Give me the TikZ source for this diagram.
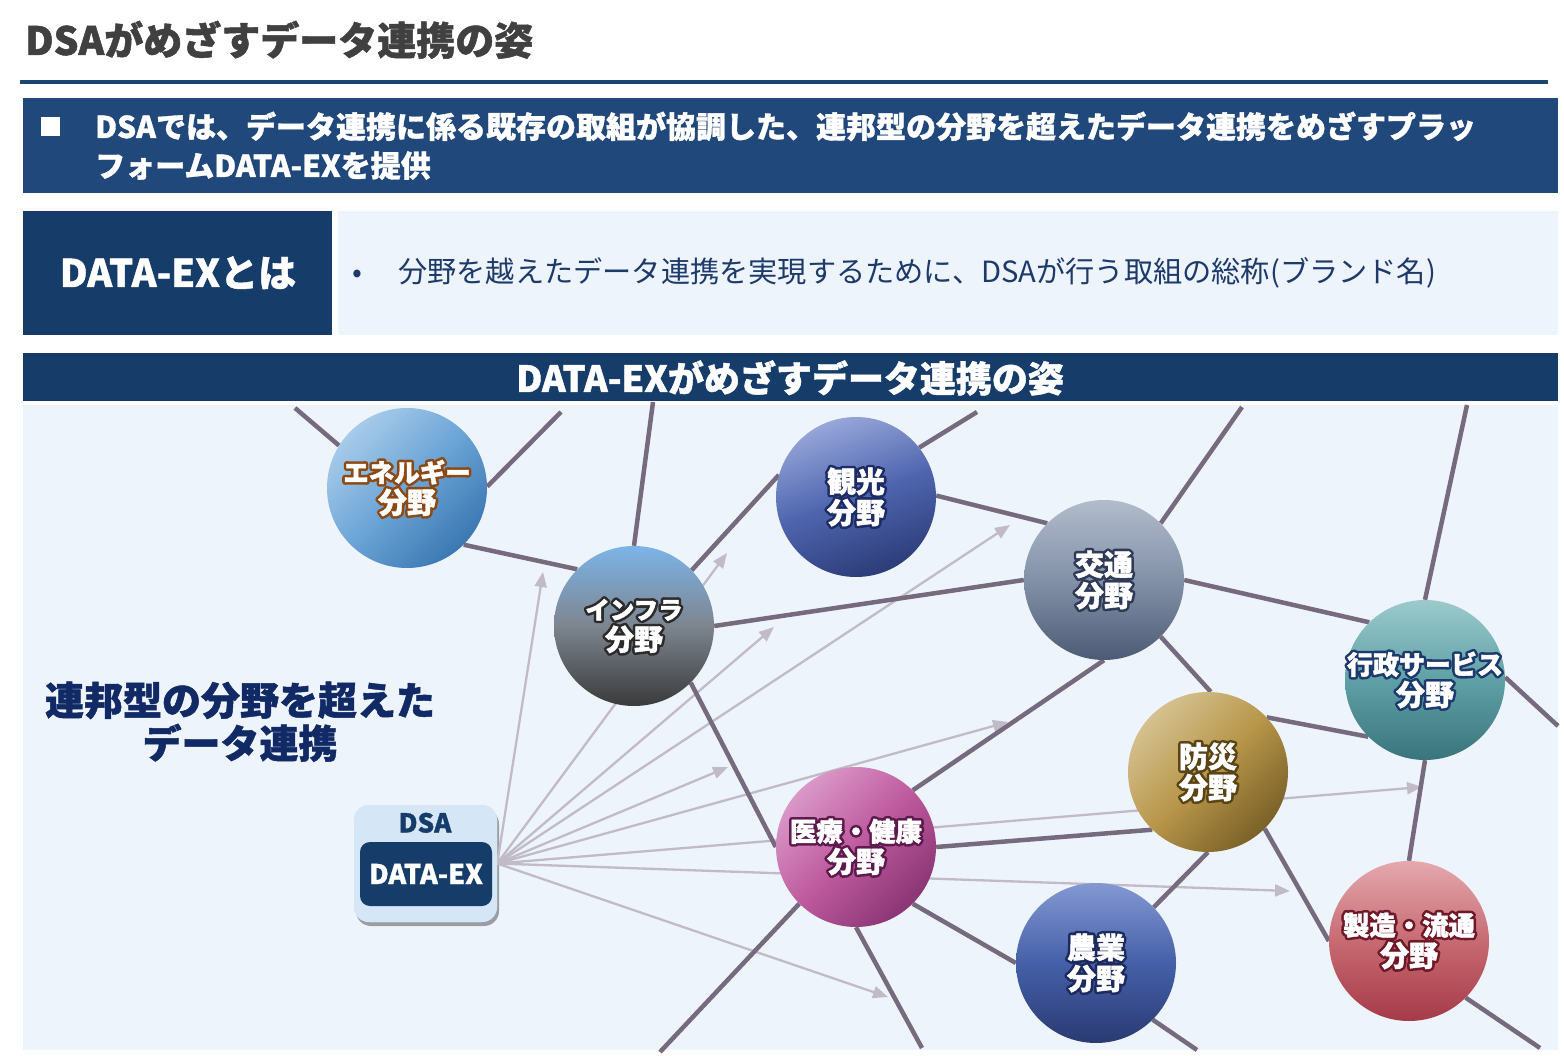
\documentclass[tikz,border=0pt]{standalone}
\usepackage{fontspec}
\setmainfont{Noto Sans CJK JP}
\usetikzlibrary{arrows.meta,shadows}

\definecolor{titlec}{HTML}{404040}
\definecolor{navyline}{HTML}{1C4470}
\definecolor{boxone}{HTML}{21487A}
\definecolor{darkbox}{HTML}{163D69}
\definecolor{lightbg}{HTML}{EEF4FC}
\definecolor{desctext}{HTML}{1E3A6A}
\definecolor{lefttext}{HTML}{112A66}
\definecolor{linec}{HTML}{766A7E}
\definecolor{arrc}{HTML}{C0BBC6}
\definecolor{dsaouter}{HTML}{D5E6F6}

\definecolor{eA}{HTML}{A7CBEA}\definecolor{eM}{HTML}{6BA4D6}\definecolor{eB}{HTML}{3B78B2}
\definecolor{iA}{HTML}{7CB4E8}\definecolor{iM}{HTML}{7D858F}\definecolor{iB}{HTML}{3A3A3A}
\definecolor{kA}{HTML}{97A6DA}\definecolor{kM}{HTML}{4E65AE}\definecolor{kB}{HTML}{2C3C78}
\definecolor{tA}{HTML}{B1BCCB}\definecolor{tM}{HTML}{8391A8}\definecolor{tB}{HTML}{4D5A75}
\definecolor{vA}{HTML}{9CCACC}\definecolor{vM}{HTML}{5FA0A6}\definecolor{vB}{HTML}{3A747C}
\definecolor{bA}{HTML}{D5C18F}\definecolor{bM}{HTML}{B8964A}\definecolor{bB}{HTML}{7A6128}
\definecolor{mA}{HTML}{DA98C8}\definecolor{mM}{HTML}{BE5A9E}\definecolor{mB}{HTML}{8A3574}
\definecolor{nA}{HTML}{8499D2}\definecolor{nM}{HTML}{4560A8}\definecolor{nB}{HTML}{2A3A72}
\definecolor{sA}{HTML}{E4A9AE}\definecolor{sM}{HTML}{C76A72}\definecolor{sB}{HTML}{A63A48}

% stroke-only text (glow) in a given rgb stroke colour
\newcommand\glowtxt[2]{\special{pdf:literal direct #1 RG #1 rg 1 Tr 5.6 w 1 j 1 J}#2}
% slightly heavier text: fill + thin stroke in the same colour (stays inside the node's scope)
\newcommand\heavy[2]{\special{pdf:literal direct #1 RG 2 Tr #2 w 0 j}}

\begin{document}
\begin{tikzpicture}[x=1pt,y=-1pt,
  darkline/.style={draw=linec, line width=4.5pt},
  arr/.style={draw=arrc, line width=2.3pt, -{Triangle[length=15pt,width=12pt]}},
  field/.style={circle, minimum size=160pt, inner sep=0pt},
  flabel/.style={inner sep=0pt, align=center, font=\bfseries\fontsize{28}{31}\selectfont},
  fshade/.style n args={4}{top color=#1, bottom color=#3, middle color=#2, shading angle=#4},
  txt/.style={inner sep=0pt, anchor=base},
]
\fill[white] (0,0) rectangle (1564,1056);
\useasboundingbox (0,0) rectangle (1564,1056);

% title
\node[txt, anchor=base west, text=titlec, font=\bfseries\fontsize{39}{44}\selectfont] (title) at (25,55) {\heavy{0.251 0.251 0.251}{0.5}DSAがめざすデータ連携の姿};
\draw[navyline, line width=4pt] (20,82) -- (1548,82);

% box 1
\node[fill=boxone, minimum width=1535pt, minimum height=95pt, inner sep=0pt, anchor=north west] (box1) at (23,98) {};
\node[fill=white, minimum size=19pt, inner sep=0pt] (sq) at (50,127) {};
\node[txt, anchor=base west, text=white, font=\bfseries\fontsize{30}{36}\selectfont] (b1l1) at (95,138) {\heavy{1 1 1}{0.35}DSAでは、データ連携に係る既存の取組が協調した、連邦型の分野を超えたデータ連携をめざすプラッ};
\node[txt, anchor=base west, text=white, font=\bfseries\fontsize{30}{36}\selectfont] (b1l2) at (95,177) {\heavy{1 1 1}{0.35}フォームDATA-EXを提供};

% definition row
\node[fill=darkbox, minimum width=309pt, minimum height=124pt, inner sep=0pt, anchor=north west] (defl) at (23,211) {};
\node[txt, text=white, font=\bfseries\fontsize{38}{44}\selectfont] (deflt) at (178,287) {\heavy{1 1 1}{0.4}DATA-EXとは};
\node[fill=lightbg, minimum width=1220pt, minimum height=124pt, inner sep=0pt, anchor=north west] (defr) at (338,211) {};
\node[txt, text=desctext, font=\fontsize{29}{34}\selectfont] (bul) at (357,283) {•};
\node[txt, anchor=base west, text=desctext, font=\fontsize{29.2}{34}\selectfont] (deft) at (398,283) {分野を越えたデータ連携を実現するために、DSAが行う取組の総称(ブランド名)};

% header
\node[fill=darkbox, minimum width=1535pt, minimum height=48pt, inner sep=0pt, anchor=north west] (hdr) at (23,353) {};
\node[txt, text=white, font=\bfseries\fontsize{36}{42}\selectfont] (hdrt) at (790,392) {\heavy{1 1 1}{0.45}DATA-EXがめざすデータ連携の姿};

% diagram area
\node[fill=lightbg, minimum width=1535pt, minimum height=645pt, inner sep=0pt, anchor=north west] (area) at (23,405) {};

% left text
\node[txt, text=lefttext, font=\bfseries\fontsize{39}{44}\selectfont] (lt1) at (240,715) {\heavy{0.067 0.165 0.4}{0.5}連邦型の分野を超えた};
\node[txt, text=lefttext, font=\bfseries\fontsize{39}{44}\selectfont] (lt2) at (240,758) {\heavy{0.067 0.165 0.4}{0.5}データ連携};

% field nodes (geometry only, for anchors)
\node[field] (E) at (407,488) {};
\node[field] (I) at (634,626) {};
\node[field] (K) at (856,497) {};
\node[field] (T) at (1104,580) {};
\node[field] (G) at (1425,680) {};
\node[field] (B) at (1208,772) {};
\node[field] (M) at (856,847) {};
\node[field] (N) at (1096,963) {};
\node[field] (S) at (1409,941) {};

% DATA-EX box outline (for anchors and shadow)
\node[fill=dsaouter, rounded corners=15pt, minimum width=143pt, minimum height=117pt, inner sep=0pt,
  drop shadow={shadow xshift=2pt, shadow yshift=-4pt, fill=black, opacity=0.35}] (dsa) at (425.5,863.5) {};

% arrow targets
\coordinate (a1) at (543,572);
\coordinate (a2) at (727,553);
\coordinate (a3) at (774,627);
\coordinate (a4) at (1010,525);
\coordinate (a5) at (728,767);
\coordinate (a6) at (1008,722);
\coordinate (a7) at (1422,787);
\coordinate (a8) at (1290,891);
\coordinate (a9) at (888,997);
\foreach \t in {a1,a2,a3,a4,a5,a6,a7,a8,a9} \draw[arr] (dsa.east) -- (\t);

% DATA-EX box on top of arrow starts
\node[fill=dsaouter, rounded corners=15pt, minimum width=143pt, minimum height=117pt, inner sep=0pt] (dsa2) at (dsa) {};
\node[fill=darkbox, rounded corners=10pt, minimum width=132pt, minimum height=64pt, inner sep=0pt] (dx) at (426,874) {};
\node[txt, text=darkbox, font=\bfseries\fontsize{26}{30}\selectfont] (dsat) at (425,832.5) {\heavy{0.086 0.239 0.412}{0.3}DSA};
\node[txt, text=white, font=\bfseries\fontsize{27}{30}\selectfont] (dxt) at (426,884) {\heavy{1 1 1}{0.3}DATA-EX};

% free ends
\coordinate (c1) at (295,408);
\coordinate (c2) at (561,412);
\coordinate (c4) at (653,402);
\coordinate (c6) at (977,412);
\coordinate (c9) at (1242,407);
\coordinate (c11) at (1467,405);
\coordinate (c12) at (1558,726);
\coordinate (c21) at (660,1052);
\coordinate (c22) at (922,1048);
\coordinate (c24) at (1197,1050);
\coordinate (c25) at (1540,1048);

% dark connectors
\foreach \a/\b in {c1/E.148, E.1/c2, E.-45/I.135, I.90/c4, I.44/K.164, K.38/c6, K.1/T.135, I.0/T.180,
  T.45/c9, T.0/G.134, G.90/c11, G.2/c12, T.-45/B.88, T.270/M.45, B.43/G.225, G.270/S.90, B.226/M.0,
  B.-45/S.180, B.270/N.44, I.-45/M.180, M.225/c21, M.270/c22, M.-45/N.180, N.-45/c24, S.-45/c25}
  \draw[darkline] (\a) -- (\b);

% shaded circles above the connectors
\node[field, fshade={eA}{eM}{eB}{45}] (Ef) at (E) {};
\node[field, fshade={iA}{iM}{iB}{0}] (If) at (I) {};
\node[field, fshade={kA}{kM}{kB}{20}] (Kf) at (K) {};
\node[field, fshade={tA}{tM}{tB}{0}] (Tf) at (T) {};
\node[field, fshade={vA}{vM}{vB}{0}] (Gf) at (G) {};
\node[field, fshade={bA}{bM}{bB}{45}] (Bf) at (B) {};
\node[field, fshade={mA}{mM}{mB}{45}] (Mf) at (M) {};
\node[field, fshade={nA}{nM}{nB}{0}] (Nf) at (N) {};
\node[field, fshade={sA}{sM}{sB}{0}] (Sf) at (S) {};

% labels: glow (stroke only) then white fill; first line sized per label
\foreach \n/\g/\l/\s in {E/{0.549 0.290 0.071}/エネルギー/25.5, I/{0.17 0.17 0.17}/インフラ/24.5,
  K/{0.118 0.173 0.400}/観光/29, T/{0.180 0.227 0.337}/交通/29, G/{0.110 0.227 0.424}/行政サービス/26,
  B/{0.353 0.267 0.086}/防災/29, M/{0.369 0.102 0.298}/医療・健康/26.4, N/{0.110 0.165 0.369}/農業/29,
  S/{0.431 0.094 0.157}/製造・流通/26.4} {
  \node[flabel] (\n glow) at (\n) {{\fontsize{\s}{31}\selectfont\glowtxt{\g}{\l}}\\{\fontsize{29}{31}\selectfont\glowtxt{\g}{分野}}};
  \node[flabel, text=white] (\n text) at (\n) {\heavy{1 1 1}{0.4}{\fontsize{\s}{31}\selectfont\l}\\{\fontsize{29}{31}\selectfont 分野}};
}
\end{tikzpicture}
\end{document}
